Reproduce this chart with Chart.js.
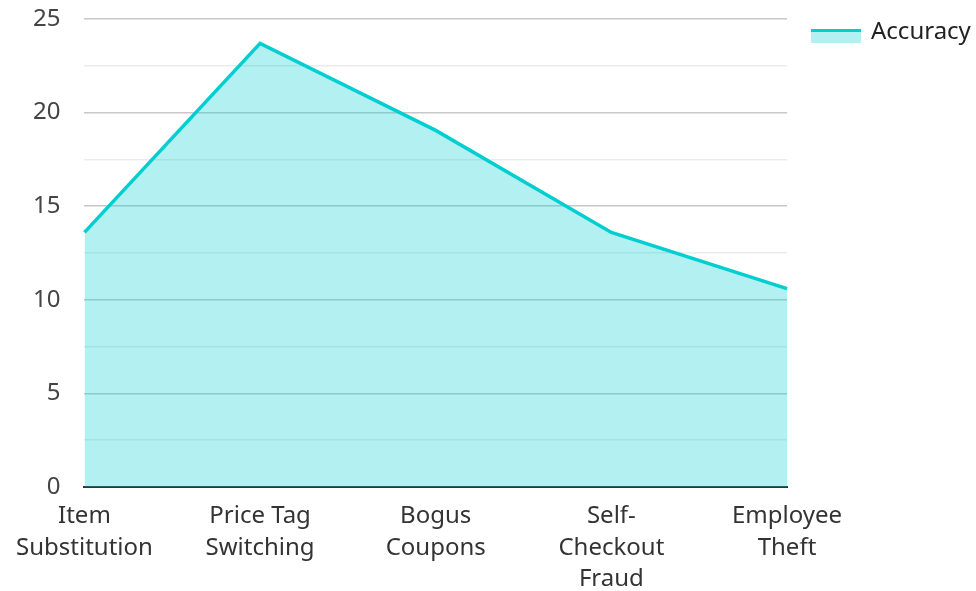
<!DOCTYPE html>
<html>
<head>
<meta charset="utf-8">
<script src="https://cdn.jsdelivr.net/npm/chart.js@4/dist/chart.umd.min.js"></script>
<style>
  html, body { margin: 0; padding: 0; background: #fff; }
  #wrap { width: 976px; height: 591px; }
</style>
</head>
<body>
<div id="wrap"><canvas id="chart"></canvas></div>
<script>
// --- Données ---
const categories = [
    ['Item', 'Substitution'],
    ['Price Tag', 'Switching'],
    ['Bogus', 'Coupons'],
    ['Self-', 'Checkout', 'Fraud'],
    ['Employee', 'Theft']
];
const accuracy = [13.6, 23.7, 19.05, 13.6, 10.6];
const yTicks = [0, 5, 10, 15, 20, 25];

const lineColor = '#00CED1';
const fillColor = 'rgba(0, 206, 209, 0.3)';
const fontFamily = '"Noto Sans", sans-serif';

// Légende dessinée à la main : trait en haut de la boîte, remplissage dessous
const customLegend = {
    id: 'customLegend',
    afterDraw(chart) {
        const ctx = chart.ctx;
        const area = chart.chartArea;
        const x = area.right + 24;
        const y = area.top + 10;
        ctx.save();
        chart.data.datasets.forEach(ds => {
            ctx.fillStyle = ds.backgroundColor;
            ctx.fillRect(x, y, 50, 14);
            ctx.fillStyle = ds.borderColor;
            ctx.fillRect(x, y, 50, 3);
            ctx.fillStyle = '#222';
            ctx.font = '24px ' + fontFamily;
            ctx.textBaseline = 'middle';
            ctx.textAlign = 'left';
            ctx.fillText(ds.label, x + 60, y + 3);
        });
        ctx.restore();
    }
};

Chart.defaults.font.family = fontFamily;
Chart.defaults.font.size = 24;
Chart.defaults.color = '#333';

new Chart(document.getElementById('chart'), {
    type: 'line',
    data: {
        labels: categories,
        datasets: [{
            label: 'Accuracy',
            data: accuracy,
            borderColor: lineColor,
            backgroundColor: fillColor,
            borderWidth: 3.5,
            fill: 'origin',
            pointRadius: 0,
            tension: 0
        }]
    },
    options: {
        responsive: true,
        maintainAspectRatio: false,
        animation: false,
        layout: { padding: { top: 19, right: 189, left: 9, bottom: 0 } },
        scales: {
            x: {
                offset: false,
                afterFit: s => { s.height = 104; },
                grid: { display: false, drawTicks: false },
                border: { display: true, color: '#333', width: 2 },
                ticks: {
                    padding: 14, maxRotation: 0, autoSkip: false, color: '#333',
                    font: { size: 24, lineHeight: 1.3 }
                }
            },
            y: {
                min: 0,
                max: 25,
                afterFit: s => { s.paddingTop = 0; s.paddingBottom = 0; },
                afterBuildTicks: axis => {
                    const t = [];
                    for (let v = 0; v <= 25; v += 2.5) t.push({ value: v });
                    axis.ticks = t;
                },
                grid: {
                    drawTicks: false,
                    color: c => (yTicks.includes(c.tick.value) ? '#c8c8c8' : '#ebebeb'),
                    lineWidth: 1.5
                },
                border: { display: false },
                ticks: {
                    padding: 24,
                    color: '#444',
                    callback: v => (yTicks.includes(v) ? v : '')
                }
            }
        },
        plugins: {
            legend: { display: false },
            tooltip: { enabled: false }
        }
    },
    plugins: [customLegend]
});
</script>
</body>
</html>
